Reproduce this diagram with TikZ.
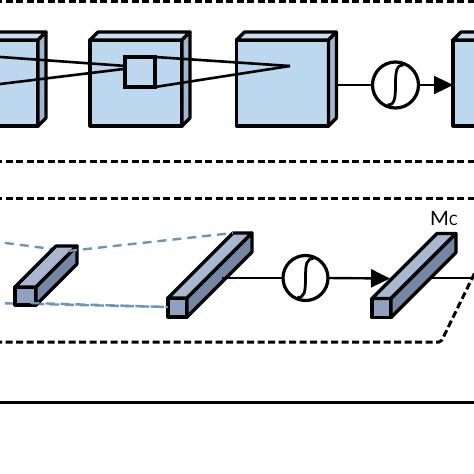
\documentclass[tikz,border=0pt]{standalone}
\usepackage{fontspec}
\setmainfont{Carlito}
\usetikzlibrary{arrows.meta}
\definecolor{cubefront}{HTML}{BDD7EE}
\definecolor{cubetopc}{HTML}{CADDF0}
\definecolor{cubesidec}{HTML}{A2B7CD}
\definecolor{bartopc}{HTML}{A9B8CF}
\definecolor{barfrontc}{HTML}{8EA1BE}
\definecolor{barsidec}{HTML}{7587A5}
\definecolor{projblue}{HTML}{6E94B9}
\begin{document}
\begin{tikzpicture}[x=1pt,y=-1pt,
  cubebox/.style={draw=black,line width=3.2pt,fill=cubefront,minimum width=92pt,minimum height=86pt,inner sep=0pt,outer sep=0pt,line join=round},
  cubetop/.style={draw=black,line width=3.2pt,fill=cubetopc,line join=round},
  cubeside/.style={draw=black,line width=3.2pt,fill=cubesidec,line join=round},
  rfbox/.style={draw=black,line width=3.2pt,fill=cubefront,minimum size=30pt,inner sep=0pt,outer sep=0pt},
  barbox/.style={draw=black,line width=3.2pt,fill=barfrontc,minimum size=19pt,inner sep=0pt,outer sep=0pt,line join=round},
  bartop/.style={draw=black,line width=3.2pt,fill=bartopc,line join=round},
  barside/.style={draw=black,line width=3.2pt,fill=barsidec,line join=round},
  sigcirc/.style={circle,draw=black,line width=3.2pt,fill=white,minimum size=46pt,inner sep=0pt,outer sep=0pt},
  sigline/.style={draw=black,line width=2.8pt},
  conn/.style={draw=black,line width=2.4pt},
  rfline/.style={draw=black,line width=2.6pt},
  boxdash/.style={draw=black,line width=3pt,dash pattern=on 7pt off 3.5pt},
  projdash/.style={draw=projblue,line width=2.4pt,dash pattern=on 9pt off 6pt},
  bigtip/.style={-{Triangle[length=19pt,width=18pt]}}
]
\useasboundingbox (0,0) rectangle (474,474);
\fill[white] (0,0) rectangle (474,474);
\clip (0,0) rectangle (474,474);

% frames
\coordinate (f1a) at (-5,1.5);   \coordinate (f1b) at (480,1.5);
\coordinate (f2a) at (-5,161); \coordinate (f2b) at (480,161);
\coordinate (f3a) at (-5,198); \coordinate (f3b) at (480,198);
\coordinate (f4a) at (-5,342); \coordinate (f4b) at (441,342); \coordinate (f4c) at (480,262);
\coordinate (f5a) at (-5,402); \coordinate (f5b) at (480,402);
\draw[boxdash] (f1a) -- (f1b);
\draw[boxdash] (f2a) -- (f2b);
\draw[boxdash] (f3a) -- (f3b);
\draw[boxdash,rounded corners=2pt] (f4a) -- (f4b) -- (f4c);
\draw[black,line width=3pt] (f5a) -- (f5b);

% top row cubes
\node[cubebox] (c1) at (-8,83) {};
\node[cubebox] (c2) at (136,83) {};
\node[cubebox] (c3) at (282.5,83) {};
\node[cubebox] (c4) at (499,83) {};
\foreach \n in {c1,c2,c3,c4}{
  \draw[cubetop] (\n.north west) -- ([shift={(8,-8)}]\n.north west) -- ([shift={(8,-8)}]\n.north east) -- (\n.north east) -- cycle;
  \draw[cubeside] (\n.north east) -- ([shift={(8,-8)}]\n.north east) -- ([shift={(8,-8)}]\n.south east) -- (\n.south east) -- cycle;
}

% receptive field lines
\coordinate (r1a) at (-40,54.1);
\coordinate (r1b) at (-40,88.9);
\coordinate (t2) at (140,67);
\coordinate (t3) at (290,66);
\draw[rfline] (r1a) -- (t2);
\draw[rfline] (r1b) -- (t2);
\node[rfbox] (sq) at (140,72) {};
\draw[rfline] (sq.north east) -- (t3);
\draw[rfline] (sq.south east) -- (t3);

% top sigmoid
\node[sigcirc] (s1) at (395.5,85) {};
\draw[sigline] ([shift={(-8,20)}]s1.center) .. controls ([shift={(-1,20)}]s1.center) and ([shift={(0,14)}]s1.center) .. (s1.center) .. controls ([shift={(0,-14)}]s1.center) and ([shift={(1,-20)}]s1.center) .. ([shift={(8,-20)}]s1.center);
\coordinate (c3r) at ([xshift=8pt]c3.east);
\draw[conn] (c3r |- s1) -- (s1.west);
\draw[conn,bigtip] (s1.east) -- (s1 -| c4.west);

% bottom row: projection lines behind bars
\coordinate (pa) at (-10,241);
\coordinate (pb) at (-10,303);
\coordinate (p1) at (68,251);
\coordinate (p2) at (168,307);
\draw[projdash] (pa) -- (p1);
\draw[projdash] (pb) -- (p2);

% bars
\node[barbox,minimum width=21pt,minimum height=18pt] (b1) at (25.5,296) {};
\draw[bartop] (b1.north west) -- ([shift={(41,-41)}]b1.north west) -- ([shift={(41,-41)}]b1.north east) -- (b1.north east) -- cycle;
\draw[barside] (b1.north east) -- ([shift={(41,-41)}]b1.north east) -- ([shift={(41,-41)}]b1.south east) -- (b1.south east) -- cycle;
\foreach \n/\pos in {b2/{(177.5,307.5)},b3/{(381.5,308)}}{
  \node[barbox] (\n) at \pos {};
  \draw[bartop] (\n.north west) -- ([shift={(65,-65)}]\n.north west) -- ([shift={(65,-65)}]\n.north east) -- (\n.north east) -- cycle;
  \draw[barside] (\n.north east) -- ([shift={(65,-65)}]\n.north east) -- ([shift={(65,-65)}]\n.south east) -- (\n.south east) -- cycle;
}

% projection lines in front
\coordinate (b2top) at ([shift={(65,-65)}]b2.north west);
\coordinate (b1fr) at ([shift={(5,-2)}]b1.south);
\draw[projdash] (p1) -- (b2top);
\draw[projdash] (b1fr) -- (p2);

% bottom sigmoid
\node[sigcirc,minimum size=45pt] (s2) at (305.5,278) {};
\draw[sigline] ([shift={(-8,19.5)}]s2.center) .. controls ([shift={(-1,19.5)}]s2.center) and ([shift={(0,14)}]s2.center) .. (s2.center) .. controls ([shift={(0,-14)}]s2.center) and ([shift={(1,-19.5)}]s2.center) .. ([shift={(8,-19.5)}]s2.center);
\coordinate (b2out) at ([shift={(35,-39)}]b2.south east);
\coordinate (b3in) at ([shift={(18,-20)}]b3.north west);
\coordinate (b3out) at ([shift={(41,-39.5)}]b3.south east);
\coordinate (rend) at (480,278);
\draw[conn] (b2out) -- (s2.west);
\draw[conn,bigtip] (s2.east) -- (b3in);
\draw[conn] (b3out) -- (rend);

% label
\node[anchor=base west,inner sep=0pt] (mc) at (430,225) {{\fontsize{22}{22}\selectfont M}{\fontsize{16}{16}\selectfont C}};
\end{tikzpicture}
\end{document}
